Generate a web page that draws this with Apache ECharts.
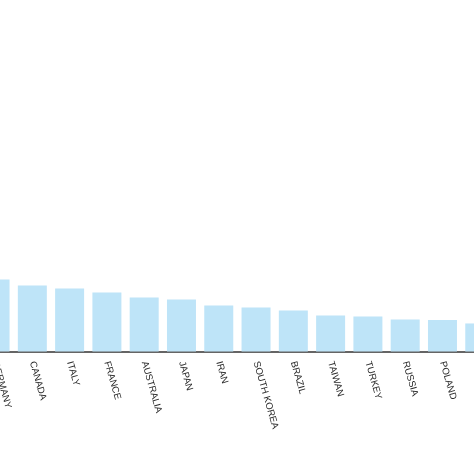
<!DOCTYPE html>
<html>
<head>
<meta charset="utf-8">
<script src="https://cdn.jsdelivr.net/npm/echarts@6/dist/echarts.min.js"></script>
<style>
  html, body { margin: 0; padding: 0; background: #fff; overflow: hidden; width: 474px; height: 474px; }
  /* the reference is a crop of a wider chart, so the chart is wider than the window */
  #chart { position: absolute; left: -60px; top: 0; width: 600px; height: 474px; }
</style>
</head>
<body>
<div id="chart"></div>
<script>
// countries (picture is cropped: GERMANY at left and the last one at right are only partly visible)
const countries = ['GERMANY', 'CANADA', 'ITALY', 'FRANCE', 'AUSTRALIA', 'JAPAN', 'IRAN',
  'SOUTH KOREA', 'BRAZIL', 'TAIWAN', 'TURKEY', 'RUSSIA', 'POLAND', 'SPAIN']
// bar heights (relative units)
const values = [72, 66, 63, 59, 54, 52, 46, 44, 41, 36, 35, 32, 31.5, 28]
const yMax = 351

const myChart = echarts.init(document.getElementById('chart'))
const option = {
  animation: false,
  grid: {
    left: 36.4,
    width: 522,
    top: 0,
    height: 351.5
  },
  xAxis: {
    type: 'category',
    data: countries,
    axisLine: { lineStyle: { color: '#333', width: 1.5 } },
    axisTick: { alignWithLabel: true, length: 4, lineStyle: { color: '#333' } },
    axisLabel: {
      interval: 0,
      rotate: -74,
      margin: 10,
      fontSize: 9.6,
      color: '#2a2a2a',
      fontFamily: 'Liberation Sans'
    }
  },
  yAxis: {
    type: 'value',
    min: 0,
    max: yMax,
    show: false,
    splitLine: { show: false }
  },
  series: [
    {
      type: 'bar',
      data: values,
      barWidth: 29,
      itemStyle: { color: '#bee4f8' }
    }
  ]
}
myChart.setOption(option)
</script>
</body>
</html>
